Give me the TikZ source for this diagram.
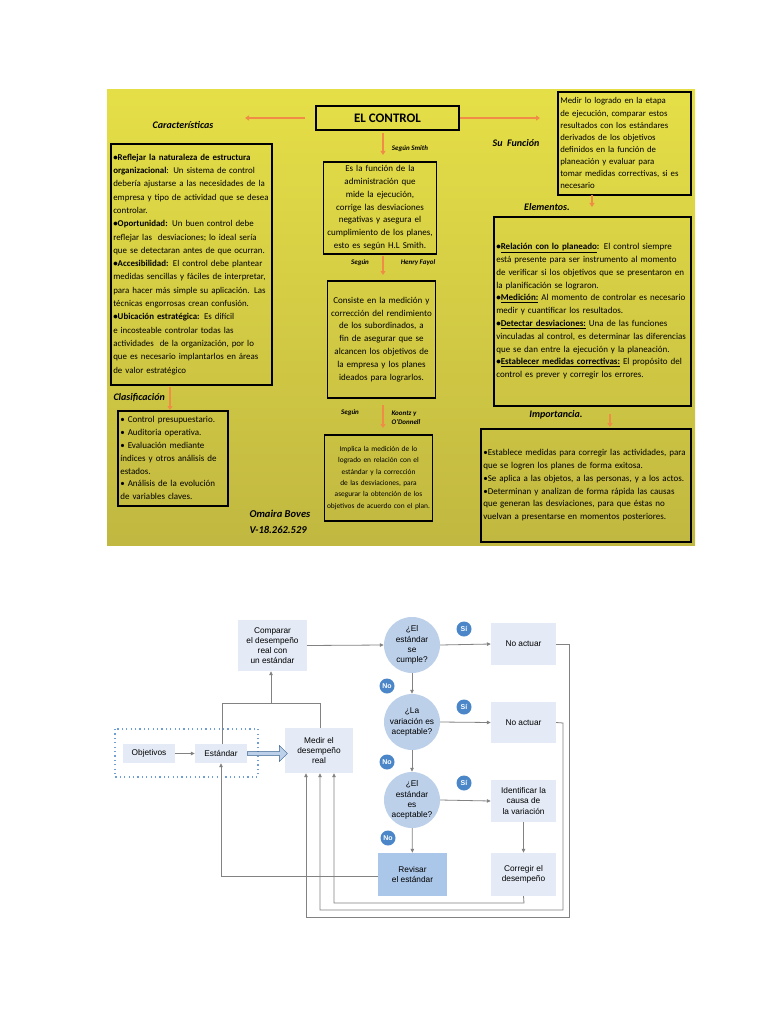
\documentclass[tikz,border=0pt]{standalone}
\usepackage{fontspec}
\setmainfont{Carlito}
\newfontfamily\arialf{Liberation Sans}
\usetikzlibrary{arrows.meta,shapes.arrows}
\definecolor{ybg}{RGB}{214,204,72}
\definecolor{orn}{RGB}{240,140,70}
\definecolor{lb}{RGB}{228,235,246}
\definecolor{cb}{RGB}{188,208,234}
\definecolor{rb}{RGB}{170,198,232}
\definecolor{badge}{RGB}{74,134,200}
\definecolor{gl}{RGB}{130,130,130}
\hyphenpenalty=10000
\exhyphenpenalty=10000
\begin{document}
\begin{tikzpicture}[x=1pt,y=-1pt,
  yb/.style={draw=black,line width=1.6pt,inner sep=2.5pt,font=\fontsize{9}{12.8}\selectfont},
  lab/.style={font=\fontsize{10}{12}\selectfont\bfseries\itshape},
  sl/.style={font=\fontsize{7}{8.5}\selectfont\bfseries\itshape},
  oa/.style={draw=orn,line width=1.2pt,-{Triangle[length=4pt,width=5pt]}},
  fb/.style={fill=lb,font=\arialf\fontsize{8.3}{10.2}\selectfont,align=center,inner sep=2pt},
  dq/.style={circle,fill=cb,minimum size=56pt,inner sep=0pt,font=\arialf\fontsize{8.3}{10.2}\selectfont,align=center},
  bd/.style={circle,fill=badge,text=white,minimum size=15pt,inner sep=0pt,font=\arialf\bfseries\fontsize{7}{7}\selectfont},
  gar/.style={draw=gl,line width=0.8pt,-{Triangle[length=4pt,width=3.5pt]}},
  gln/.style={draw=gl,line width=0.8pt}]
\useasboundingbox (0,0) rectangle (768,1024);
\fill[white] (0,0) rectangle (768,1024);
\shade[top color=ybg!70!yellow!90!white,bottom color=ybg!90!black] (107,90) rectangle (695,545);
% top
\node[yb,minimum width=143pt,minimum height=24pt,font=\fontsize{13}{14}\selectfont\bfseries] (ctl) at (387.5,118) {EL CONTROL};
\node[lab] (car) at (183,125) {Características};
\coordinate (carA) at (245,118);
\draw[oa] (305,118) -- (carA);
\coordinate (funA) at (540,118);
\draw[oa] (ctl.east) -- (funA);
\node[lab] (sufun) at (516,143) {Su~ Función};
\node[yb,text width=128pt,minimum height=103pt,align=left,anchor=north west,font=\fontsize{8.8}{12.1}\selectfont] (fun) at (557,91) {Medir lo logrado en la etapa de ejecución, comparar estos resultados con los estándares derivados de los objetivos definidos en la función de planeación y evaluar para tomar medidas correctivas, si es necesario};
\node[lab] (elem) at (547,207) {Elementos.};
\coordinate (elA) at (592,207);
\draw[oa] (592,195) -- (elA);
\node[yb,text width=192pt,minimum height=189pt,align=left,anchor=north west] (ele) at (493,216) {\textbf{•\underline{Relación con lo planeado}:} El control siempre está presente para ser instrumento al momento de verificar si los objetivos que se presentaron en la planificación se lograron.\\\textbf{•\underline{Medición:}} Al momento de controlar es necesario medir y cuantificar los resultados.\\\textbf{•\underline{Detectar desviaciones:}} Una de las funciones vinculadas al control, es determinar las diferencias que se dan entre la ejecución y la planeación.\\\textbf{•\underline{Establecer medidas correctivas:}} El propósito del control es prever y corregir los errores.};
\node[lab] (imp) at (556,415) {Importancia.};
\coordinate (impA) at (610,427);
\draw[oa] (610,414) -- (impA);
\node[yb,text width=205pt,minimum height=113pt,align=left,anchor=north west] (impb) at (480,428) {•Establece medidas para corregir las actividades, para que se logren los planes de forma exitosa.\\•Se aplica a las objetos, a las personas, y a los actos.\\•Determinan y analizan de forma rápida las causas que generan las desviaciones, para que éstas no vuelvan a presentarse en momentos posteriores.};
\node[yb,text width=156pt,minimum height=241pt,align=left,anchor=north west,font=\fontsize{8.9}{13.3}\selectfont] (carb) at (110,143) {\textbf{•Reflejar la naturaleza de estructura organizacional}: Un sistema de control debería ajustarse a las necesidades de la empresa y tipo de actividad que se desea controlar.\\\textbf{•Oportunidad:} Un buen control debe reflejar las~ desviaciones; lo ideal sería que se detectaran antes de que ocurran.\\\textbf{•Accesibilidad:} El control debe plantear medidas sencillas y fáciles de interpretar, para hacer más simple su aplicación. Las técnicas engorrosas crean confusión.\\\textbf{•Ubicación estratégica:} Es difícil e incosteable controlar todas las actividades~ de la organización, por lo que es necesario implantarlos en áreas de valor estratégico};
\node[lab,anchor=west] (cla) at (110,398) {Clasificación};
\coordinate (claA) at (170,410);
\draw[oa] (170,387) -- (claA);
\node[yb,text width=105pt,minimum height=95pt,align=left,anchor=north west] (clab) at (117,410) {• Control presupuestario.\\• Auditoria operativa.\\• Evaluación mediante índices y otros análisis de estados.\\• Análisis de la evolución de variables claves.};
\node[lab,align=left,anchor=west,font=\fontsize{10.5}{16}\selectfont\bfseries\itshape] (om) at (246,522) {Omaira Boves\\V-18.262.529};
\node[yb,text width=108pt,minimum height=92pt,align=center,anchor=north] (c1) at (380,161) {Es la función de la administración que mide la ejecución, corrige las desviaciones negativas y asegura el cumplimiento de los planes, esto es según H.L Smith.};
\coordinate (a1) at (383,155);
\draw[oa] (383,133) -- (a1);
\node[sl] (ss) at (410,149) {Según Smith};
\node[yb,text width=103pt,minimum height=117pt,align=center,anchor=north] (c2) at (381.5,280) {Consiste en la medición y corrección del rendimiento de los subordinados, a fin de asegurar que se alcancen los objetivos de la empresa y los planes ideados para lograrlos.};
\coordinate (a2) at (383,275);
\draw[oa] (383,256) -- (a2);
\node[sl] (sg1) at (360,263) {Según};
\node[sl] (hf) at (418,263) {Henry Fayol};
\node[yb,text width=103pt,minimum height=86pt,align=center,anchor=north,font=\fontsize{7.4}{11.4}\selectfont] (c3) at (378.5,434) {Implica la medición de lo logrado en relación con el estándar y la corrección de las desviaciones, para asegurar la obtención de los objetivos de acuerdo con el plan.};
\coordinate (a3) at (383,428);
\draw[oa] (383,405) -- (a3);
\node[sl] (sg2) at (350,413) {Según};
\node[sl,align=left] (ko) at (406,418) {Koontz y\\ O'Donnell};
% bottom flowchart
\draw[badge!80,line width=1.6pt,dash pattern=on 1.2pt off 3.2pt] (115,729) rectangle (258,777);
\node[fb,minimum width=69pt,minimum height=51pt] (cmp) at (272.5,645.5) {Comparar\\el desempeño\\real con\\un estándar};
\node[dq] (q1) at (412,645) {¿El\\estándar\\se\\cumple?};
\node[dq] (q2) at (412,722) {¿La\\variación es\\aceptable?};
\node[dq] (q3) at (412,800) {¿El\\estándar\\es\\aceptable?};
\node[fb,minimum width=65pt,minimum height=42pt] (na1) at (523.5,644) {No actuar};
\node[fb,minimum width=65pt,minimum height=41pt] (na2) at (523.5,722.5) {No actuar};
\node[fb,minimum width=65pt,minimum height=42pt] (idf) at (523.5,801) {Identificar la\\causa de\\la variación};
\node[fb,fill=rb,minimum width=69pt,minimum height=43pt] (rev) at (412.5,874.5) {Revisar\\el estándar};
\node[fb,minimum width=65pt,minimum height=43pt] (cor) at (523.5,874.5) {Corregir el\\desempeño};
\node[fb,minimum width=68pt,minimum height=45pt] (med) at (319,750.5) {Medir el\\desempeño\\real};
\node[fb,minimum width=52pt,minimum height=19pt] (obj) at (149,753.5) {Objetivos};
\node[fb,minimum width=52pt,minimum height=19pt] (est) at (221,753.5) {Estándar};
\node[single arrow,draw=badge!70!black,fill=cb,minimum height=40pt,minimum width=16pt,single arrow head extend=4pt,inner sep=1pt,anchor=tail] (ba) at (est.east) {};
\draw[gar] (obj) -- (est);
\draw[gar] (cmp.east) -- (q1.west);
\draw[gar] (q1.east) -- (na1.west);
\draw[gar] (q2.east) -- (na2.west);
\draw[gar] (q3.east) -- (idf.west);
\draw[gar] (q1) -- (q2);
\draw[gar] (q2) -- (q3);
\draw[gar] (q3) -- (rev);
\draw[gar] (idf) -- (cor);
\coordinate (j1) at (222,703);
\coordinate (j2) at (320,703);
\coordinate (j3) at (271,703);
\draw[gln] (est.north -| j1) -- (j1) -- (j2) -- (med.north -| j2);
\draw[gar] (j3) -- (cmp.south -| j3);
\coordinate (r1) at (221,876);
\draw[gar] (rev.west |- r1) -- (r1) -- (est.south -| r1);
\coordinate (f1) at (524,903);
\coordinate (f2) at (334,903);
\draw[gar] (cor.south) -- (f1) -- (f2) -- (med.south -| f2);
\coordinate (g1) at (563,723);
\coordinate (g2) at (563,910);
\coordinate (g3) at (320,910);
\draw[gar] (na2.east) -- (g1) -- (g2) -- (g3) -- (med.south -| g3);
\coordinate (h1) at (569,644);
\coordinate (h2) at (569,917);
\coordinate (h3) at (306,917);
\draw[gar] (na1.east) -- (h1) -- (h2) -- (h3) -- (med.south -| h3);
\node[bd] (s1) at (464,629) {Sí};
\node[bd] (s2) at (464,707) {Sí};
\node[bd] (s3) at (464,783) {Sí};
\node[bd] (n1) at (387,686) {No};
\node[bd] (n2) at (387,762) {No};
\node[bd] (n3) at (388,838) {No};
\end{tikzpicture}
\end{document}
